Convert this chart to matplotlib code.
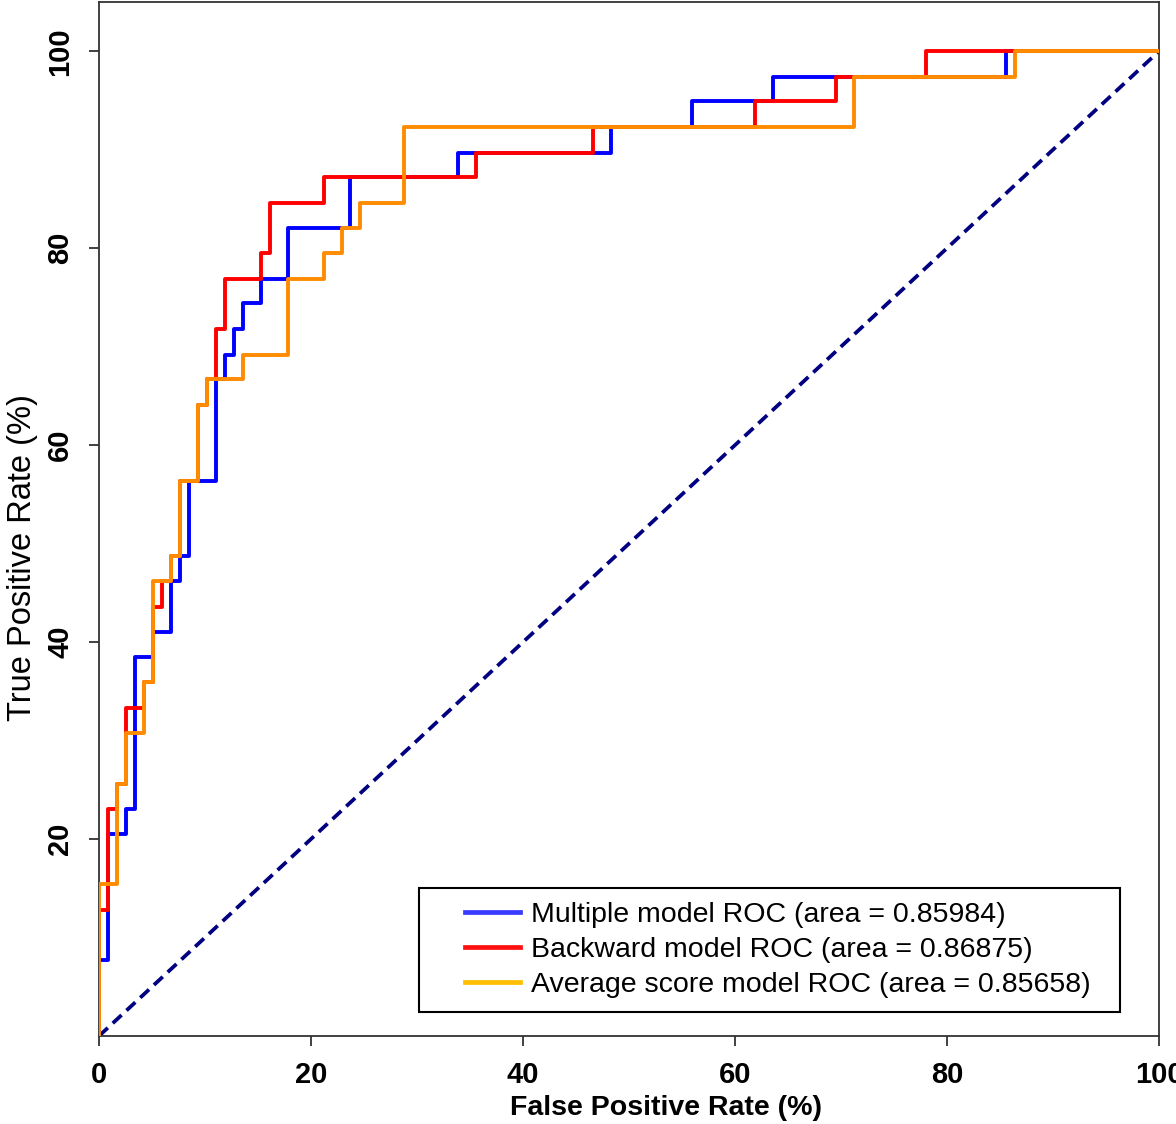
import matplotlib
matplotlib.use("Agg")
import matplotlib.pyplot as plt
from matplotlib.lines import Line2D
from matplotlib.legend_handler import HandlerLine2D

# corner points of each step curve, in percent
multiple_fpr = [0, 0, 0.85, 0.85, 2.5, 2.5, 3.4, 3.4, 5.1, 5.1, 6.8, 6.8, 7.6, 7.6,
                8.5, 8.5, 11.0, 11.0, 11.9, 11.9, 12.7, 12.7, 13.6, 13.6, 15.3, 15.3,
                17.8, 17.8, 23.7, 23.7, 33.9, 33.9, 48.3, 48.3, 55.9, 55.9, 63.6, 63.6,
                85.6, 85.6, 100]
multiple_tpr = [0, 7.7, 7.7, 20.5, 20.5, 23.1, 23.1, 38.5, 38.5, 41.0, 41.0, 46.2, 46.2, 48.7,
                48.7, 56.4, 56.4, 66.7, 66.7, 69.2, 69.2, 71.8, 71.8, 74.4, 74.4, 76.9,
                76.9, 82.1, 82.1, 87.2, 87.2, 89.7, 89.7, 92.3, 92.3, 94.9, 94.9, 97.4,
                97.4, 100, 100]

backward_fpr = [0, 0, 0.85, 0.85, 1.7, 1.7, 2.5, 2.5, 4.2, 4.2, 5.1, 5.1, 5.9, 5.9, 6.8, 6.8,
                7.6, 7.6, 9.3, 9.3, 10.2, 10.2, 11.0, 11.0, 11.9, 11.9, 15.3, 15.3, 16.1, 16.1,
                21.2, 21.2, 35.6, 35.6, 46.6, 46.6, 61.9, 61.9, 69.5, 69.5, 78.0, 78.0, 100]
backward_tpr = [0, 12.8, 12.8, 23.1, 23.1, 25.6, 25.6, 33.3, 33.3, 35.9, 35.9, 43.6, 43.6, 46.2,
                46.2, 48.7, 48.7, 56.4, 56.4, 64.1, 64.1, 66.7, 66.7, 71.8, 71.8, 76.9, 76.9,
                79.5, 79.5, 84.6, 84.6, 87.2, 87.2, 89.7, 89.7, 92.3, 92.3, 94.9, 94.9, 97.4,
                97.4, 100, 100]

average_fpr = [0, 0, 1.7, 1.7, 2.5, 2.5, 4.2, 4.2, 5.1, 5.1, 6.8, 6.8, 7.6, 7.6, 9.3, 9.3,
               10.2, 10.2, 13.6, 13.6, 17.8, 17.8, 21.2, 21.2, 22.9, 22.9, 24.6, 24.6, 28.8,
               28.8, 71.2, 71.2, 86.4, 86.4, 100]
average_tpr = [0, 15.4, 15.4, 25.6, 25.6, 30.8, 30.8, 35.9, 35.9, 46.2, 46.2, 48.7, 48.7, 56.4,
               56.4, 64.1, 64.1, 66.7, 66.7, 69.2, 69.2, 76.9, 76.9, 79.5, 79.5, 82.1, 82.1,
               84.6, 84.6, 92.3, 92.3, 97.4, 97.4, 100, 100]

labels = ["Multiple model ROC (area = 0.85984)",
          "Backward model ROC (area = 0.86875)",
          "Average score model ROC (area = 0.85658)"]
x_ticks = [0, 20, 40, 60, 80, 100]
y_ticks = [20, 40, 60, 80, 100]

plt.rcParams["font.family"] = ["Liberation Sans", "DejaVu Sans"]

fig = plt.figure(figsize=(11.76, 11.24), dpi=100)
ax = fig.add_axes([0.0842, 0.0783, 0.9013, 0.9199])

lw = 2.8
ax.plot(multiple_fpr, multiple_tpr, color="#0000ff", lw=lw, zorder=3)
ax.plot(backward_fpr, backward_tpr, color="#ff0000", lw=lw, zorder=4)
ax.plot(average_fpr, average_tpr, color="#ff8c00", lw=lw, zorder=5)
ax.plot([0, 100], [0, 100], color="#000080", lw=2.7, dashes=(3.2, 1.8), zorder=2)

ax.set_xlim(0, 100)
ax.set_ylim(0, 105)
ax.set_xticks(x_ticks)
ax.set_yticks(y_ticks)
ax.set_xticklabels([str(t) for t in x_ticks], fontweight="bold", fontsize=21)
ax.set_yticklabels([str(t) for t in y_ticks], fontweight="bold", fontsize=21,
                   rotation=90, va="center")
ax.tick_params(direction="out", length=7, width=1.3, color="#333333", pad=11)

for spine in ax.spines.values():
    spine.set_color("#333333")
    spine.set_linewidth(1.3)

ax.set_xlabel("False Positive Rate (%)", fontweight="bold", fontsize=20.5)
ax.set_ylabel("True Positive Rate (%)", fontsize=23.5)
ax.xaxis.set_label_coords(0.535, -0.057)
ax.yaxis.set_label_coords(-0.058, 0.463)

handles = [Line2D([], [], color="#3a3aff", lw=3.4),
           Line2D([], [], color="#ff1010", lw=3.4),
           Line2D([], [], color="#ffbf00", lw=3.4)]
hmap = {h: HandlerLine2D(xpad=1.13) for h in handles}
leg = ax.legend(handles, labels, loc="lower left",
                bbox_to_anchor=(0.3016, 0.023, 0.6616, 0.12), mode="expand",
                fontsize=20.5, frameon=True, fancybox=False, framealpha=1,
                handlelength=3.06, handletextpad=0.39, labelspacing=0.31,
                borderpad=0.5, borderaxespad=0, handler_map=hmap)
leg.get_frame().set_edgecolor("black")
leg.get_frame().set_linewidth(1.5)

fig.savefig("out.png", dpi=100)
